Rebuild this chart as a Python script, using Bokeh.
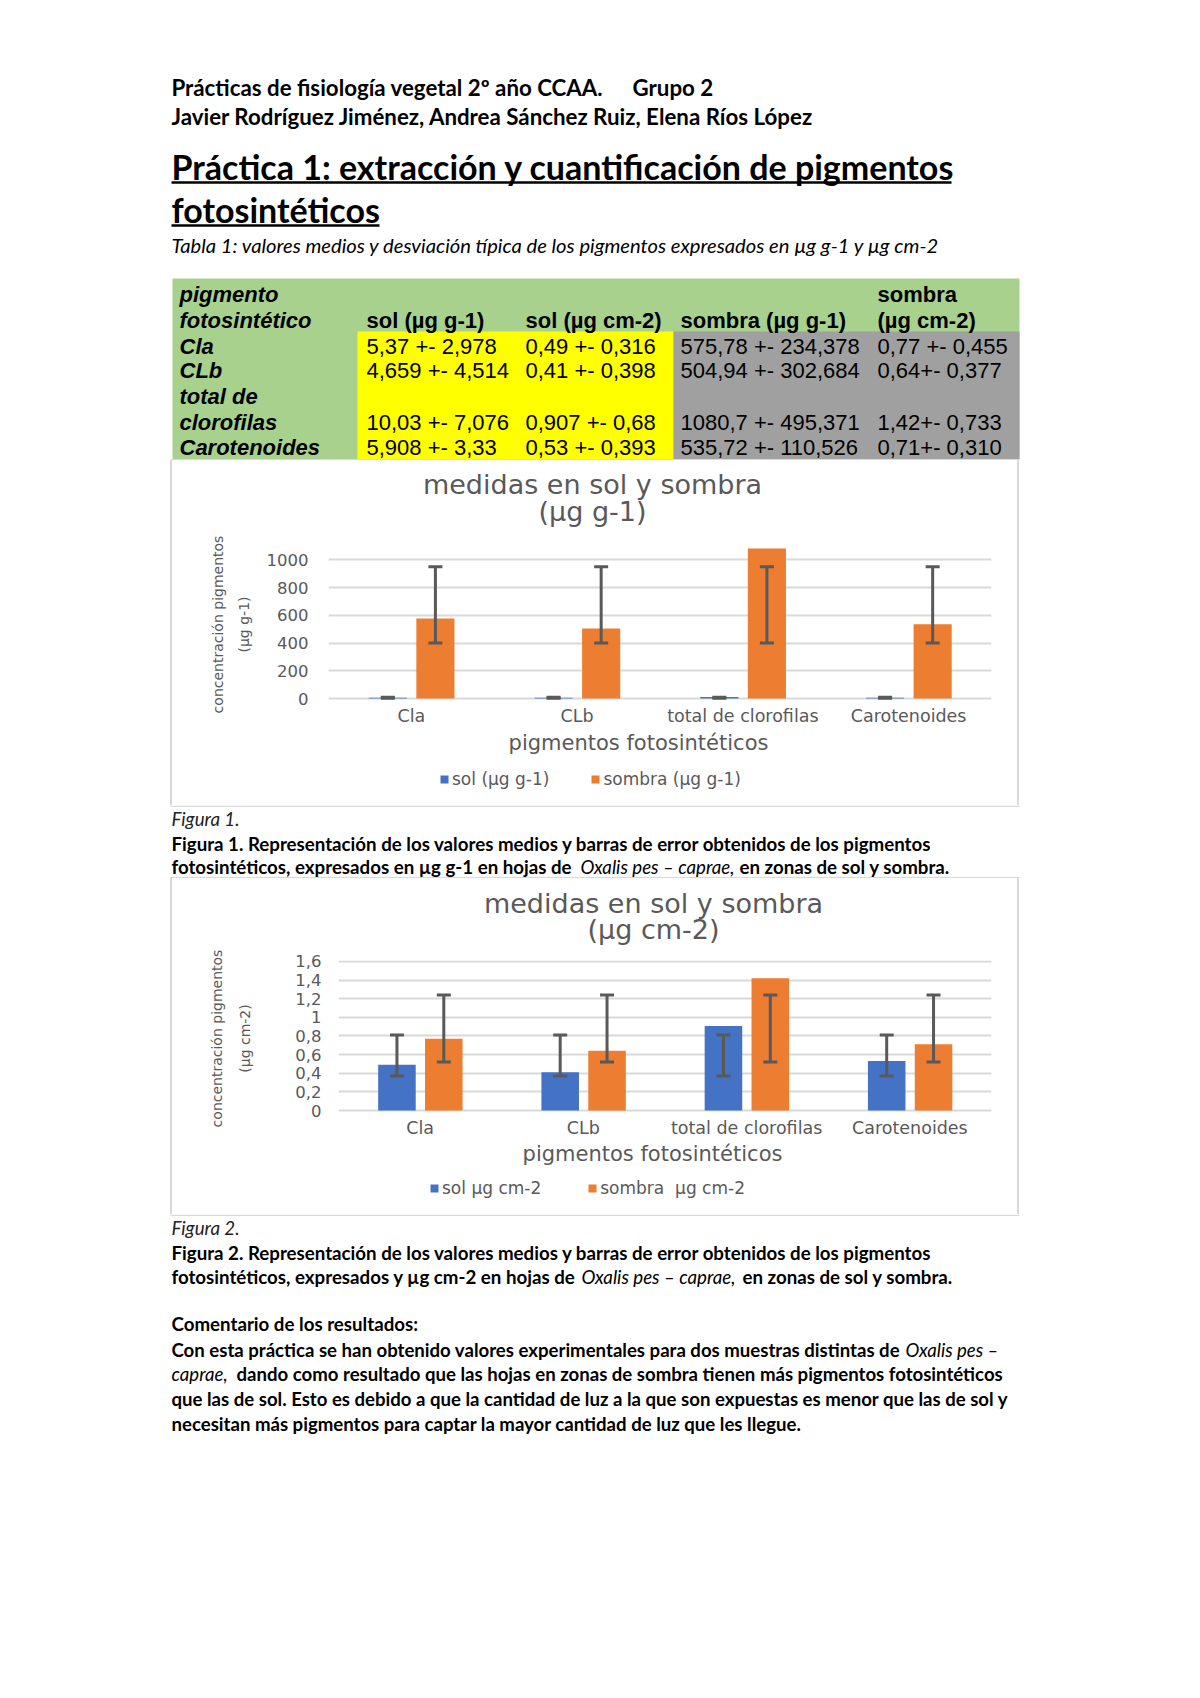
import math
from bokeh.plotting import figure
from bokeh.models import (Range1d, FactorRange, ColumnDataSource, Whisker, TeeHead,
                          Legend, LegendItem, FixedTicker, LinearAxis, Spacer)
from bokeh.layouts import column, row
from bokeh.transform import dodge
from bokeh.core.properties import value
from bokeh.embed import file_html
from bokeh.resources import INLINE

# ---------------- data ----------------
pigmentos = ["Cla", "CLb", "total de clorofilas", "Carotenoides"]

sol_g = [5.37, 4.659, 10.03, 5.908]
sombra_g = [575.78, 504.94, 1080.7, 535.72]
sol_cm = [0.49, 0.41, 0.907, 0.53]
sombra_cm = [0.77, 0.64, 1.42, 0.71]

# error-bar ends as drawn in the figures
sol_g_lo = [2, 2, 2, 2]
sol_g_hi = [9, 9, 9, 9]
sombra_g_lo = [400, 400, 400, 400]
sombra_g_hi = [950, 950, 950, 950]
sol_cm_lo = [0.37, 0.37, 0.37, 0.37]
sol_cm_hi = [0.81, 0.81, 0.81, 0.81]
sombra_cm_lo = [0.52, 0.52, 0.52, 0.52]
sombra_cm_hi = [1.24, 1.24, 1.24, 1.24]

yticks_g = [0, 200, 400, 600, 800, 1000]
yticks_g_labels = ["0", "200", "400", "600", "800", "1000"]
yticks_cm = [0, 0.2, 0.4, 0.6, 0.8, 1, 1.2, 1.4, 1.6]
yticks_cm_labels = ["0", "0,2", "0,4", "0,6", "0,8", "1", "1,2", "1,4", "1,6"]

tabla_etiquetas = ["pigmento", "fotosintético", "Cla", "CLb", "total de", "clorofilas", "Carotenoides"]
tabla_cabecera = ["sol (µg g-1)", "sol (µg cm-2)", "sombra (µg g-1)", "(µg cm-2)"]
tabla_sol_g = ["5,37 +- 2,978", "4,659 +- 4,514", "10,03 +- 7,076", "5,908 +- 3,33"]
tabla_sol_cm = ["0,49 +- 0,316", "0,41 +- 0,398", "0,907 +- 0,68", "0,53 +- 0,393"]
tabla_sombra_g = ["575,78 +- 234,378", "504,94 +- 302,684", "1080,7 +- 495,371", "535,72 +- 110,526"]
tabla_sombra_cm = ["0,77 +- 0,455", "0,64+- 0,377", "1,42+- 0,733", "0,71+- 0,310"]

# ---------------- styles ----------------
PAGE_FONT = "Lato"
TABLE_FONT = "Liberation Sans"
CHART_FONT = "DejaVu Sans"
GRAY_TXT = "#595959"
GRID = "#d9d9d9"
BORDER = "#d9d9d9"
BLUE = "#4472c4"
ORANGE = "#ed7d31"
ERR = "#595959"
W = 1200


def base_fig(w, h, xr, yr, ml=0, mr=0, mt=0, mb=0):
    p = figure(width=w, height=h, x_range=xr, y_range=yr,
               x_axis_type=None, y_axis_type=None, output_backend="svg",
               toolbar_location=None, title_location=None,
               min_border_left=ml, min_border_right=mr, min_border_top=mt, min_border_bottom=mb)
    p.outline_line_color = None
    p.background_fill_color = "white"
    p.border_fill_color = "white"
    return p


def blank(y0, y1):
    return base_fig(W, y1 - y0, Range1d(0, W), Range1d(y1, y0))


def txt(p, x, y, s, size, style="normal", font=PAGE_FONT, color="black", align="left"):
    p.text(x=[x], y=[y], text=[s], text_font=value(font), text_font_size=f"{size}px",
           text_font_style=style, text_color=color, text_align=align, text_baseline="middle")


def hline(p, y0, y1):
    p.quad(left=[170], right=[1019], top=[y0], bottom=[y1], fill_color=BORDER, line_color=None)


# ---------------- top of page: header + table ----------------
top = blank(0, 460)
txt(top, 171, 87, "Prácticas de fisiología vegetal 2º año CCAA.", 22.3, "bold")
txt(top, 632, 87, "Grupo 2", 22.3, "bold")
txt(top, 171, 116, "Javier Rodríguez Jiménez, Andrea Sánchez Ruiz, Elena Ríos López", 22.3, "bold")
txt(top, 171, 166, "Práctica 1: extracción y cuantificación de pigmentos", 34, "bold")
top.segment(x0=[171], y0=[182], x1=[951], y1=[182], line_color="black", line_width=2.5)
txt(top, 171, 209, "fotosintéticos", 34, "bold")
top.segment(x0=[171], y0=[225], x1=[379], y1=[225], line_color="black", line_width=2.5)
txt(top, 171, 244, "Tabla 1: valores medios y desviación típica de los pigmentos expresados en µg g-1 y µg cm-2",
    20.2, "italic")

col_edges = [172, 357, 517, 673, 872, 1019]
row_edges = [278, 306, 331, 357, 381, 408, 434, 458.5]
row_mid = [293.5, 319.5, 345.5, 369.5, 396, 422, 447]
col_text_x = [179, 366, 525, 680, 877]

top.quad(left=[col_edges[0]], right=[col_edges[-1]], top=[row_edges[0]], bottom=[row_edges[-1]],
         fill_color="#a9d18e", line_color=None)
top.quad(left=[col_edges[1]], right=[col_edges[3]], top=[row_edges[2]], bottom=[row_edges[-1]],
         fill_color="#ffff00", line_color=None)
top.quad(left=[col_edges[3]], right=[col_edges[5]], top=[row_edges[2]], bottom=[row_edges[-1]],
         fill_color="#a0a0a0", line_color=None)

for i, lab in enumerate(tabla_etiquetas):
    txt(top, col_text_x[0], row_mid[i], lab, 22, "bold italic", TABLE_FONT)
txt(top, col_text_x[4], row_mid[0], "sombra", 22, "bold", TABLE_FONT)
for j, lab in enumerate(tabla_cabecera):
    txt(top, col_text_x[j + 1], row_mid[1], lab, 22, "bold", TABLE_FONT)
data_rows = [2, 3, 5, 6]
for k, r in enumerate(data_rows):
    for j, colvals in enumerate([tabla_sol_g, tabla_sol_cm, tabla_sombra_g, tabla_sombra_cm]):
        txt(top, col_text_x[j + 1], row_mid[r], colvals[k], 22, "normal", TABLE_FONT)
hline(top, 458.5, 460)


# ---------------- chart builder ----------------
# all geometry in page pixels: box y0..y1, plot figure ps..cb, frame ft..fb, zero line z0, frame x fl..991
def chart(geo, ymax, yticks, ylabels, sol, sombra, slo, shi, olo, ohi,
          title2, ylab2, leg_sol, leg_som, pos):
    (y0, ps, ft, z0, fb, cb, y1, fl) = geo
    (title_x, t1y, t2y, ystand, s1, s2, xt_x, xt_y, lx, ly, lspace) = pos
    ml, mr = fl - 172, 1017 - 991
    scale = (z0 - ft) / ymax
    ymin = -(fb - z0) / scale

    # --- title strip ---
    tf = base_fig(845, ps - y0, Range1d(fl, 991), Range1d(ps, y0), ml, mr)
    txt(tf, title_x, t1y, "medidas en sol y sombra", 27, font=CHART_FONT, color=GRAY_TXT, align="center")
    txt(tf, title_x, t2y, title2, 27, font=CHART_FONT, color=GRAY_TXT, align="center")

    # --- plotting figure ---
    p = figure(width=845, height=cb - ps, x_range=FactorRange(factors=pigmentos),
               y_range=Range1d(ymin, ymax), output_backend="svg", toolbar_location=None,
               title_location=None, min_border_left=ml, min_border_right=mr,
               min_border_top=ft - ps, min_border_bottom=cb - fb)
    p.outline_line_color = None
    p.background_fill_color = "white"
    p.border_fill_color = "white"
    p.xgrid.visible = False
    p.ygrid.ticker = FixedTicker(ticks=yticks)
    p.ygrid.grid_line_color = GRID
    p.ygrid.grid_line_width = 2
    p.yaxis.ticker = FixedTicker(ticks=yticks)
    p.yaxis.major_label_overrides = dict(zip(yticks, ylabels))
    for ax in (p.xaxis, p.yaxis):
        ax.axis_line_color = None
        ax.major_tick_line_color = None
        ax.minor_tick_line_color = None
        ax.major_label_text_color = GRAY_TXT
        ax.major_label_text_font = CHART_FONT
    p.yaxis.major_label_text_font_size = "16.5px"
    p.yaxis.major_label_standoff = ystand
    p.xaxis.major_label_text_font_size = "17.5px"
    p.xaxis.major_tick_out = 0
    p.xaxis.major_tick_in = 0
    p.xaxis.major_label_standoff = 1
    # the two lines of the y-axis title, on label-only axes
    for lab, stand in ((ylab2, s1), ("concentración pigmentos", s2)):
        ax = LinearAxis(ticker=FixedTicker(ticks=[]), axis_label=lab,
                        axis_label_standoff=stand, axis_label_text_font=CHART_FONT,
                        axis_label_text_font_size="14px", axis_label_text_font_style="normal",
                        axis_label_text_color=GRAY_TXT, axis_line_color=None,
                        major_tick_line_color=None, minor_tick_line_color=None,
                        major_tick_out=0, major_tick_in=0, major_label_standoff=0)
        p.add_layout(ax, "left")

    src = ColumnDataSource(dict(x=pigmentos, sol=sol, sombra=sombra,
                                slo=slo, shi=shi, olo=olo, ohi=ohi))
    p.vbar(x=dodge("x", -0.142, range=p.x_range), top="sol", width=0.23, source=src,
           fill_color=BLUE, line_color=None)
    p.vbar(x=dodge("x", 0.145, range=p.x_range), top="sombra", width=0.23, source=src,
           fill_color=ORANGE, line_color=None)
    for off, lo, hi in ((-0.142, "slo", "shi"), (0.145, "olo", "ohi")):
        w = Whisker(base=dodge("x", off, range=p.x_range), lower=lo, upper=hi, source=src,
                    line_color=ERR, line_width=3,
                    upper_head=TeeHead(size=14, line_color=ERR, line_width=3),
                    lower_head=TeeHead(size=14, line_color=ERR, line_width=3))
        w.level = "overlay"
        p.add_layout(w)

    # --- strip under the plot: x-axis title and legend ---
    lf = base_fig(845, y1 - cb, FactorRange(factors=pigmentos), Range1d(y1, cb), ml, mr)
    # the same two series, hidden here: they only feed the legend
    l1 = lf.vbar(x=dodge("x", -0.142, range=lf.x_range), top="sol", width=0.23, source=src,
                 fill_color=BLUE, line_color=None, visible=False)
    l2 = lf.vbar(x=dodge("x", 0.145, range=lf.x_range), top="sombra", width=0.23, source=src,
                 fill_color=ORANGE, line_color=None, visible=False)
    unit = (991 - fl) / len(pigmentos)
    lf.text(x=[(xt_x - fl) / unit], y=[xt_y], text=["pigmentos fotosintéticos"],
            text_font=value(CHART_FONT), text_font_size="21px", text_color=GRAY_TXT,
            text_align="center", text_baseline="middle")
    leg = Legend(items=[LegendItem(label=leg_sol, renderers=[l1]),
                        LegendItem(label=leg_som, renderers=[l2])],
                 orientation="horizontal", location=(lx, ly), glyph_width=10, glyph_height=10,
                 label_text_font=CHART_FONT, label_text_font_size="17px",
                 label_text_color=GRAY_TXT, label_standoff=3, label_height=16,
                 spacing=lspace, padding=0, margin=0, border_line_color=None,
                 background_fill_alpha=0, inactive_fill_alpha=0)
    lf.add_layout(leg)
    return column(tf, p, lf)


ch1 = chart((460, 531, 544, 698, 704, 730, 805, 328), 1110, yticks_g, yticks_g_labels,
            sol_g, sombra_g, sol_g_lo, sol_g_hi, sombra_g_lo, sombra_g_hi,
            "(µg g-1)", "(µg g-1)", "sol (µg g-1)", "sombra (µg g-1)",
            (592, 484, 511, 14, 12, 7, 638, 742, 111, 16, 41))
ch2 = chart((878, 946, 960, 1110, 1116, 1142, 1214, 338), 1.61, yticks_cm, yticks_cm_labels,
            sol_cm, sombra_cm, sol_cm_lo, sol_cm_hi, sombra_cm_lo, sombra_cm_hi,
            "(µg cm-2)", "(µg cm-2)", "sol µg cm-2", "sombra  µg cm-2",
            (653, 903, 929, 11, 40, 9, 652, 1153, 91, 16, 46))


def vborder(h):
    return Spacer(width=2, height=h, styles={"background-color": BORDER})


row1 = row(Spacer(width=170, height=345), vborder(345), ch1, vborder(345))
row2 = row(Spacer(width=170, height=336), vborder(336), ch2, vborder(336))

# ---------------- caption between charts ----------------
mid = blank(805, 878)
hline(mid, 805, 806.5)
hline(mid, 876.5, 878)
txt(mid, 171, 818, "Figura 1.", 18.7, "italic", color="#222222")
txt(mid, 171, 843, "Figura 1. Representación de los valores medios y barras de error obtenidos de los pigmentos",
    18.7, "bold")
txt(mid, 171, 866, "fotosintéticos, expresados en µg g-1 en hojas de", 18.7, "bold")
txt(mid, 580, 866, "Oxalis pes – caprae,", 18.7, "italic")
txt(mid, 739, 866, "en zonas de sol y sombra.", 18.7, "bold")

# ---------------- bottom of page ----------------
bot = blank(1214, 1698)
hline(bot, 1214, 1215.5)
txt(bot, 171, 1227, "Figura 2.", 18.7, "italic", color="#222222")
txt(bot, 171, 1252, "Figura 2. Representación de los valores medios y barras de error obtenidos de los pigmentos",
    18.7, "bold")
txt(bot, 171, 1276, "fotosintéticos, expresados y µg cm-2 en hojas de", 18.7, "bold")
txt(bot, 581, 1276, "Oxalis pes – caprae,", 18.7, "italic")
txt(bot, 742, 1276, "en zonas de sol y sombra.", 18.7, "bold")
txt(bot, 171, 1323, "Comentario de los resultados:", 18.7, "bold")
txt(bot, 171, 1349, "Con esta práctica se han obtenido valores experimentales para dos muestras distintas de",
    18.6, "bold")
txt(bot, 905, 1349, "Oxalis pes –", 18.6, "italic")
txt(bot, 171, 1373, "caprae,", 18.6, "italic")
txt(bot, 236, 1373, "dando como resultado que las hojas en zonas de sombra tienen más pigmentos fotosintéticos",
    18.6, "bold")
txt(bot, 171, 1398, "que las de sol. Esto es debido a que la cantidad de luz a la que son expuestas es menor que las de sol y",
    18.6, "bold")
txt(bot, 171, 1423, "necesitan más pigmentos para captar la mayor cantidad de luz que les llegue.", 18.6, "bold")

page = column(top, row1, mid, row2, bot)
open("out.html", "w").write(file_html(page, INLINE, "Práctica 1"))
